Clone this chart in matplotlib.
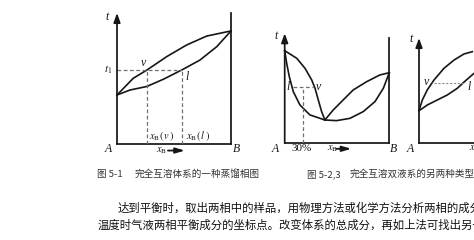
import matplotlib
matplotlib.use("Agg")
import matplotlib.pyplot as plt

plt.rcParams['font.family'] = ['Noto Sans CJK SC', 'DejaVu Sans']
plt.rcParams['mathtext.fontset'] = 'stix'

# ---- data (composition x_B, temperature scaled 0..1) ----
# Fig 5-1, ideal lens
left_vap_x = [0, 0.143, 0.263, 0.436, 0.611, 0.787, 1.0]
left_vap_t = [0.374, 0.502, 0.565, 0.667, 0.756, 0.824, 0.863]
left_liq_x = [0, 0.114, 0.261, 0.406, 0.568, 0.728, 0.875, 1.0]
left_liq_t = [0.374, 0.412, 0.439, 0.494, 0.565, 0.641, 0.743, 0.863]
t1 = 0.565
xb_v = 0.263
xb_l = 0.568

# Fig 5-2, minimum azeotrope
mid_liq1_x = [0, 0.019, 0.044, 0.082, 0.146, 0.241, 0.384]
mid_liq1_t = [0.842, 0.727, 0.606, 0.470, 0.348, 0.258, 0.212]
mid_vap1_x = [0, 0.115, 0.194, 0.258, 0.290, 0.321, 0.353, 0.384]
mid_vap1_t = [0.842, 0.773, 0.682, 0.576, 0.500, 0.394, 0.288, 0.212]
mid_vap2_x = [0.384, 0.464, 0.559, 0.655, 0.783, 0.909, 1.0]
mid_vap2_t = [0.212, 0.303, 0.394, 0.485, 0.560, 0.621, 0.642]
mid_liq2_x = [0.384, 0.496, 0.624, 0.751, 0.863, 0.943, 1.0]
mid_liq2_t = [0.212, 0.206, 0.227, 0.288, 0.379, 0.500, 0.642]
mid_tie_t = 0.515
mid_tie_x = [0.082, 0.273]
mid_sys_x = 0.178

# Fig 5-3, partly visible
right_vap_x = [0, 0.032, 0.079, 0.143, 0.239, 0.335, 0.430, 0.510]
right_vap_t = [0.296, 0.394, 0.485, 0.575, 0.682, 0.757, 0.812, 0.833]
right_liq_x = [0, 0.079, 0.175, 0.270, 0.366, 0.446, 0.526]
right_liq_t = [0.296, 0.348, 0.394, 0.439, 0.500, 0.570, 0.636]
right_tie_t = 0.545
right_tie_x = [0.143, 0.430]

caption1 = ["图 5-1", "完全互溶体系的一种蒸馏相图"]
caption2 = ["图 5-2,3", "完全互溶双液系的另两种类型"]
para = ["达到平衡时，取出两相中的样品，用物理方法或化学方法分析两相的成分",
        "温度时气液两相平衡成分的坐标点。改变体系的总成分，再如上法可找出另一"]

W, H = 474, 240
fig = plt.figure(figsize=(W / 100, H / 100), dpi=100)
fig.patch.set_facecolor('white')

ink = '#161616'
dash = '#707070'
serif = ['Liberation Serif', 'DejaVu Serif']


def make_ax(x0, y0, w, h):
    ax = fig.add_axes([x0 / W, (H - y0) / H, w / W, h / H])
    ax.set_xlim(0, 1)
    ax.set_ylim(0, 1)
    ax.axis('off')
    return ax


def frame(ax, top, border_top=None):
    ax.annotate('', xy=(0, top), xytext=(0, 0), annotation_clip=False,
                arrowprops=dict(arrowstyle='-|>,head_length=0.55,head_width=0.2',
                                color=ink, lw=1.25, shrinkA=0, shrinkB=0))
    ax.plot([0, 1], [0, 0], color=ink, lw=1.25, clip_on=False)
    if border_top is not None:
        ax.plot([1, 1], [0, border_top], color=ink, lw=1.25, clip_on=False)


def lab(ax, x, y, s, size=8.5, style='italic', **kw):
    ax.text(x, y, s, fontsize=size, family=serif, style=style, color=ink,
            ha='center', va='center', clip_on=False, **kw)


def xb_arrow(ax, x, y, x0, x1):
    lab(ax, x, y, r'$x_{\rm B}$', size=7.5)
    ax.annotate('', xy=(x1, y), xytext=(x0, y), annotation_clip=False,
                arrowprops=dict(arrowstyle='-|>,head_length=0.55,head_width=0.16',
                                color=ink, lw=1.3, shrinkA=0, shrinkB=0))


curve_lw = 1.2

# ---- Fig 5-1 ----
ax1 = make_ax(117, 144, 114, 131)
frame(ax1, 1.0, 1.0)
ax1.plot(left_vap_x, left_vap_t, color=ink, lw=curve_lw, clip_on=False)
ax1.plot(left_liq_x, left_liq_t, color=ink, lw=curve_lw, clip_on=False)
ax1.plot([0, xb_l], [t1, t1], color=dash, lw=0.9, ls=(0, (3, 2)))
ax1.plot([xb_v, xb_v], [0, t1], color=dash, lw=0.9, ls=(0, (3, 2)))
ax1.plot([xb_l, xb_l], [0, t1], color=dash, lw=0.9, ls=(0, (3, 2)))
lab(ax1, -0.085, 0.972, 't')
lab(ax1, -0.079, t1, r'$t_1$', size=8)
lab(ax1, 0.232, 0.615, 'v')
lab(ax1, 0.618, 0.514, 'l')
lab(ax1, -0.079, -0.038, 'A')
lab(ax1, 1.044, -0.038, 'B')
lab(ax1, 0.395, 0.058, r'$x_{\rm B}(\,v\,)$', size=7.5)
lab(ax1, 0.713, 0.058, r'$x_{\rm B}(\,l\,)$', size=7.5)
xb_arrow(ax1, 0.395, -0.05, 0.447, 0.596)

# ---- Fig 5-2 ----
ax2 = make_ax(284.7, 143.3, 104.6, 110)
frame(ax2, 1.0, 0.955)
for xs, ts in [(mid_liq1_x, mid_liq1_t), (mid_vap1_x, mid_vap1_t),
               (mid_vap2_x, mid_vap2_t), (mid_liq2_x, mid_liq2_t)]:
    ax2.plot(xs, ts, color=ink, lw=curve_lw, clip_on=False)
ax2.plot(mid_tie_x, [mid_tie_t, mid_tie_t], color=dash, lw=0.9, ls=(0, (3, 2)))
ax2.plot([mid_sys_x, mid_sys_x], [0, mid_tie_t], color=dash, lw=0.9, ls=(0, (3, 2)))
lab(ax2, -0.083, 0.975, 't')
lab(ax2, 0.03, mid_tie_t, 'l')
lab(ax2, 0.321, mid_tie_t, 'v')
lab(ax2, -0.093, -0.052, 'A')
lab(ax2, 1.037, -0.052, 'B')
lab(ax2, 0.163, -0.05, '30%', size=8, style='normal')
xb_arrow(ax2, 0.462, -0.05, 0.494, 0.638)

# ---- Fig 5-3 (cut at the right edge) ----
ax3 = make_ax(419, 143.3, 104.6, 110)
frame(ax3, 0.957)
ax3.plot(right_vap_x, right_vap_t, color=ink, lw=curve_lw, clip_on=False)
ax3.plot(right_liq_x, right_liq_t, color=ink, lw=curve_lw, clip_on=False)
ax3.plot(right_tie_x, [right_tie_t, right_tie_t], color='#8a8a8a', lw=0.8, ls=(0, (2, 1.5)))
lab(ax3, -0.076, 0.948, 't')
lab(ax3, 0.076, 0.557, 'v')
lab(ax3, 0.478, 0.512, 'l')
lab(ax3, -0.086, -0.052, 'A')
lab(ax3, 0.53, -0.05, r'$x_{\rm B}$', size=7.5)

# ---- captions and body text ----
cap_col = '#333333'
fig.text(97 / W, 1 - 174 / H, caption1[0], fontsize=6.9, color=cap_col, va='center')
fig.text(135 / W, 1 - 174 / H, caption1[1], fontsize=6.9, color=cap_col, va='center')
fig.text(307 / W, 1 - 174 / H, caption2[0], fontsize=6.9, color=cap_col, va='center')
fig.text(350 / W, 1 - 174 / H, caption2[1], fontsize=6.9, color=cap_col, va='center')

fig.text(118 / W, 1 - 208 / H, para[0], fontsize=8.2, color='#111111', va='center')
fig.text(98 / W, 1 - 225 / H, para[1], fontsize=8.2, color='#111111', va='center')

fig.savefig('out.png', dpi=100, facecolor='white')
